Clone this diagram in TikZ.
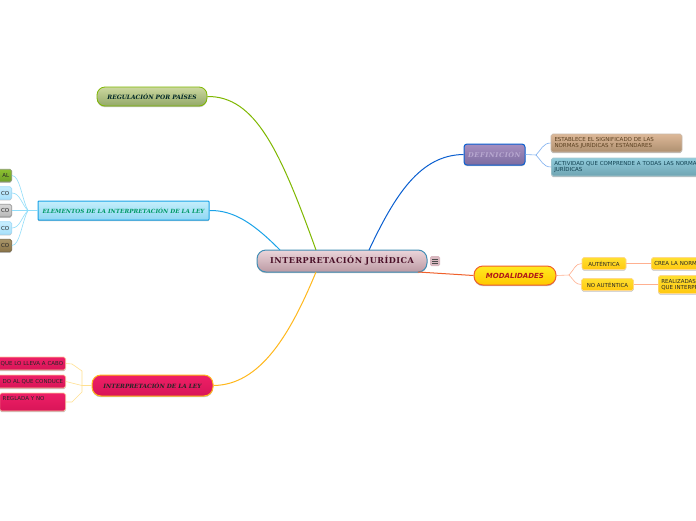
\documentclass[tikz,border=0pt]{standalone}
\usepackage{fontspec}
\setmainfont{DejaVu Sans}
\newfontfamily\brfont{DejaVu Serif}
\usetikzlibrary{shadows,calc}
\newcommand{\hx}[1]{\definecolor{#1}{HTML}{#1}}
\hx{EBD5DA}\hx{BC9AA3}\hx{D9B8C0}\hx{CCD8A0}\hx{93A868}\hx{C4EEFB}\hx{8FD7F3}\hx{EE1F66}\hx{D81558}
\hx{A68FC0}\hx{7C6CA0}\hx{B8A8D0}\hx{FFEA20}\hx{FFC800}\hx{B01818}\hx{C8B8A8}\hx{DDB898}\hx{AE9070}
\hx{A8C8D0}\hx{90CCDC}\hx{6FA4B2}\hx{7FB0F0}\hx{FFD98A}\hx{FFE030}\hx{FFC810}\hx{FFB090}\hx{8A9A70}
\hx{8CC030}\hx{6EA028}\hx{A0DCFA}\hx{C8EEFF}\hx{A8E0FA}\hx{999999}\hx{D8D8D8}\hx{B8B8B8}\hx{7A6A48}
\hx{A89468}\hx{8A7448}\hx{90DDFA}\hx{FFC8A0}\hx{FFE090}\hx{4A1028}\hx{5A4020}\hx{104050}
\tikzset{
  boxbase/.style={draw, line width=0.8pt, inner sep=1pt, align=center,
    drop shadow={shadow xshift=0pt, shadow yshift=-1.2pt, fill=black, opacity=0.25}},
  branch/.style={boxbase, rounded corners=8pt, font=\brfont\bfseries\itshape\fontsize{5.9}{7}\selectfont},
  leaf/.style={boxbase, rounded corners=1.8pt, line width=0.6pt, font=\fontsize{5.5}{6.2}\selectfont, text=black!85},
  conn/.style={line width=1pt},
  sub/.style={line width=0.6pt},
  grad/.style 2 args={top color=#1, bottom color=#2},
}
\definecolor{cgreen}{HTML}{7FB800}
\definecolor{cblue}{HTML}{1AA3E8}
\definecolor{cdark}{HTML}{0A5FD0}
\definecolor{corange}{HTML}{F0602A}
\definecolor{cyel}{HTML}{FFB81C}
\begin{document}
\begin{tikzpicture}[x=1pt,y=-1pt]
\useasboundingbox (0,0) rectangle (696,520);
\clip (0,0) rectangle (696,520);
\fill[white] (0,0) rectangle (696,520);

% central
\node[boxbase, draw=cblue!70!black!80, line width=1pt, rounded corners=9pt, grad={EBD5DA}{BC9AA3},
  minimum width=170pt, minimum height=22pt, font=\brfont\bfseries\fontsize{8.1}{9}\selectfont, text=4A1028]
  (c) at (342,261) {\addfontfeature{LetterSpace=6}INTERPRETACIÓN JURÍDICA};
\coordinate (cR) at (316,250);
\coordinate (cE) at (280,250);
\coordinate (cI) at (316,272);
\coordinate (cD) at (369,250);
\coordinate (cM) at (418,272);

% menu icon
\node[fill=D9B8C0, rounded corners=1.5pt, minimum width=10pt, minimum height=10pt, inner sep=0pt] (menu) at (435,261) {};
\foreach \yy in {-2,0,2}
  \draw[line width=0.6pt, black!70] ($(menu.center)+(-3,\yy)$) -- ($(menu.center)+(3,\yy)$);

% branches
\node[branch, draw=cgreen, grad={CCD8A0}{93A868}, minimum width=110pt, minimum height=19pt, text=black!70!teal] (reg) at (152,96.5) {REGULACIÓN POR PAÍSES};
\node[boxbase, rounded corners=0.8pt, draw=cblue, line width=1pt, grad={C4EEFB}{8FD7F3}, minimum width=171pt, minimum height=19pt,
  font=\brfont\bfseries\itshape\fontsize{5.7}{7}\selectfont, text=teal!80!green] (ele) at (123.5,210.5) {ELEMENTOS DE LA INTERPRETACIÓN DE LA LEY};
\node[branch, draw=cyel, line width=1pt, rounded corners=9pt, grad={EE1F66}{D81558}, minimum width=121pt, minimum height=21pt, text=black!85,
  font=\brfont\bfseries\itshape\fontsize{5.8}{7}\selectfont] (int) at (152.5,385.5) {INTERPRETACIÓN DE LA LEY};
\node[boxbase, draw=cdark, line width=1pt, rounded corners=3pt, grad={A68FC0}{7C6CA0}, minimum width=61pt, minimum height=21pt,
  font=\brfont\bfseries\itshape\fontsize{6.6}{8}\selectfont, text=B8A8D0] (def) at (494.5,154.5) {\addfontfeature{LetterSpace=8}DEFINICIÓN};
\node[branch, draw=corange, line width=1pt, rounded corners=9pt, grad={FFEA20}{FFC800}, minimum width=82pt, minimum height=19pt,
  font=\normalfont\bfseries\itshape\fontsize{7}{8}\selectfont, text=B01818] (mod) at (515,275.5) {MODALIDADES};

% main connectors
\draw[conn, cgreen] (cR) .. controls (280,150) and (255,96) .. (reg.east);
\draw[conn, cblue] (cE) .. controls (255,225) and (235,210) .. (ele.east);
\draw[conn, cyel] (cI) .. controls (290,335) and (260,385) .. (int.east);
\draw[conn, cdark] (cD) .. controls (395,195) and (420,155) .. (def.west);
\draw[conn, corange] (cM) -- (mod.west);

% definicion children
\node[leaf, draw=C8B8A8, grad={DDB898}{AE9070}, minimum width=131pt, minimum height=18pt, text width=124pt, align=left, text=5A4020] (d1) at (616.5,143) {ESTABLECE EL SIGNIFICADO DE LAS\\NORMAS JURÍDICAS Y ESTÁNDARES};
\node[leaf, draw=A8C8D0, grad={90CCDC}{6FA4B2}, minimum width=190pt, minimum height=18pt, text width=184pt, align=left, anchor=west, text=104050] (d2) at (551,167) {ACTIVIDAD QUE COMPRENDE A TODAS LAS NORMAS\\JURÍDICAS};
\coordinate (dh) at (536,155);
\draw[sub, 7FB0F0] (def.east) -- (dh);
\draw[sub, 7FB0F0] (dh) .. controls (541,150) and (543,143) .. (d1.west);
\draw[sub, 7FB0F0] (dh) .. controls (541,160) and (543,167) .. (d2.west);

% modalidades children
\tikzset{yleaf/.style={leaf, draw=FFD98A, grad={FFE030}{FFC810}, minimum height=12pt}}
\node[yleaf, minimum width=44pt] (m1) at (604,263.5) {AUTÉNTICA};
\node[yleaf, minimum width=52pt] (m2) at (607.5,284.5) {NO AUTÉNTICA};
\node[yleaf, minimum width=70pt, anchor=west, text width=64pt, align=left] (m3) at (651,263.5) {CREA LA NORMA};
\node[yleaf, minimum width=70pt, minimum height=18pt, anchor=west, text width=64pt, align=left] (m4) at (658,284.5) {REALIZADAS\\QUE INTERPRETAN};
\coordinate (mh) at (569,275);
\draw[sub, FFB090] (mod.east) -- (mh);
\draw[sub, FFB090] (mh) .. controls (574,270) and (575,263.5) .. (m1.west);
\draw[sub, FFB090] (mh) .. controls (574,280) and (575,284.5) .. (m2.west);
\draw[sub, FFB090] (m1.east) -- (m3.west);
\draw[sub, FFB090] (m2.east) -- (m4.west);

% elementos children
\tikzset{eleaf/.style={leaf, minimum width=60pt, minimum height=12.5pt, anchor=east, align=right, text width=55pt}}
\node[eleaf, draw=8A9A70, grad={8CC030}{6EA028}] (e1) at (12,175.5) {AL};
\node[eleaf, draw=A0DCFA, grad={C8EEFF}{A8E0FA}] (e2) at (12,193) {CO};
\node[eleaf, draw=999999, grad={D8D8D8}{B8B8B8}] (e3) at (12,210.5) {CO};
\node[eleaf, draw=A0DCFA, grad={C8EEFF}{A8E0FA}] (e4) at (12,228) {CO};
\node[eleaf, draw=7A6A48, grad={A89468}{8A7448}] (e5) at (12,245.5) {CO};
\coordinate (eh) at (28,210.5);
\draw[sub, 90DDFA] (ele.west) -- (eh);
\draw[sub, 90DDFA] (eh) .. controls (22,200) and (20,175.5) .. (e1.east);
\draw[sub, 90DDFA] (eh) .. controls (22,205) and (20,193) .. (e2.east);
\draw[sub, 90DDFA] (eh) -- (e3.east);
\draw[sub, 90DDFA] (eh) .. controls (22,216) and (20,228) .. (e4.east);
\draw[sub, 90DDFA] (eh) .. controls (22,221) and (20,245.5) .. (e5.east);

% interpretacion children
\tikzset{ileaf/.style={leaf, draw=FFC8A0, grad={EE1F66}{D81558}, text=black!85, anchor=east, text width=90pt, align=right, minimum width=95pt, minimum height=13pt}}
\node[ileaf] (i1) at (66,363.5) {QUE LO LLEVA A CABO};
\node[ileaf] (i2) at (66,381.5) {DO AL QUE CONDUCE};
\node[ileaf, minimum height=18pt, align=left, text width=60pt, minimum width=66pt] (i3) at (66,402) {REGLADA Y NO\\\mbox{}};
\coordinate (ih) at (82,385.5);
\coordinate (ia) at (72,364);
\coordinate (ib) at (72,402);
\coordinate (iu) at (82,371);
\coordinate (id) at (82,392);
\draw[sub, FFE090] (int.west) -- (ih);
\draw[sub, FFE090] (ih) -- (iu) -- (ia) -- (i1.east);
\draw[sub, FFE090] (ih) -- (i2.east);
\draw[sub, FFE090] (ih) -- (id) -- (ib) -- (i3.east);
\end{tikzpicture}
\end{document}
